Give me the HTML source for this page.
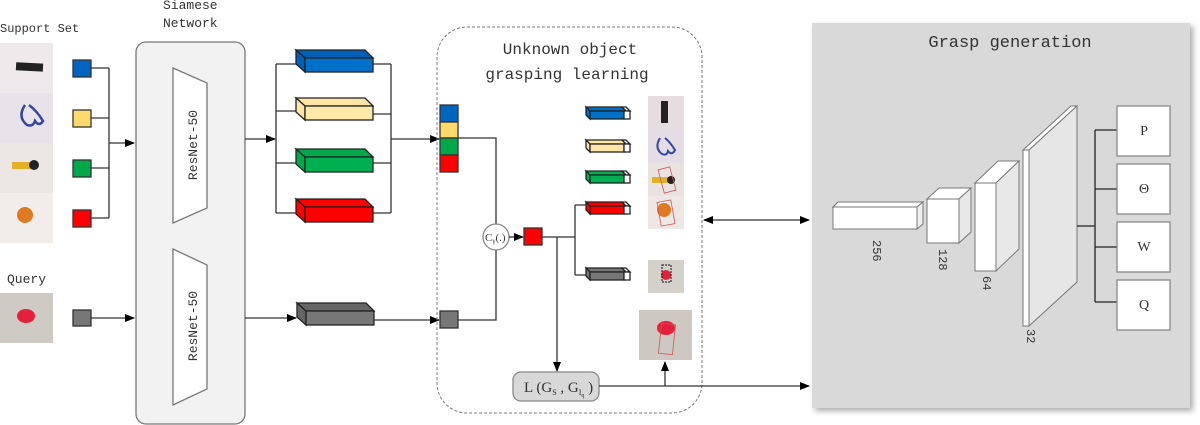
<!DOCTYPE html>
<html><head><meta charset="utf-8"><style>
html,body{margin:0;padding:0;background:#fff;width:1200px;height:425px;overflow:hidden}
text{font-family:"Liberation Mono","DejaVu Sans Mono",monospace;fill:#333}
text.s,.s text{font-family:"Liberation Serif",serif}
</style></head><body>
<svg width="1200" height="425" viewBox="0 0 1200 425" xmlns="http://www.w3.org/2000/svg">
<defs>
<marker id="a" markerWidth="10" markerHeight="8" refX="9" refY="4" orient="auto" markerUnits="userSpaceOnUse"><path d="M0,0 L10,4 L0,8 Z" fill="#000"/></marker>
<marker id="as" markerWidth="10" markerHeight="8" refX="1" refY="4" orient="auto" markerUnits="userSpaceOnUse"><path d="M10,0 L0,4 L10,8 Z" fill="#000"/></marker>
<filter id="sh" x="-5%" y="-5%" width="115%" height="115%"><feDropShadow dx="3" dy="3" stdDeviation="3" flood-color="#888" flood-opacity="0.7"/></filter>
</defs>
<g stroke="#333" stroke-width="1.3" fill="none">
<text x="0" y="32" font-size="12" stroke="none">Support Set</text>
<text x="7" y="283" font-size="13" stroke="none">Query</text>
<text x="163" y="9" font-size="13" stroke="none">Siamese</text>
<text x="163" y="27" font-size="13" stroke="none">Network</text>
<rect x="0" y="43" width="53" height="50" fill="#efe9ec" stroke="none"/>
<rect x="16" y="63" width="27" height="8" fill="#222" stroke="none" transform="rotate(3 30 67)"/>
<rect x="0" y="93" width="53" height="50" fill="#e8e2ea" stroke="none"/>
<path d="M25,105 q-8,12 2,20 q6,2 8,-4 q4,6 8,0 q-6,-10 -14,-16" stroke="#3346a0" stroke-width="2.5"/>
<rect x="0" y="143" width="53" height="50" fill="#ece7e5" stroke="none"/>
<rect x="12" y="162" width="20" height="7" fill="#e3b126" stroke="none"/>
<circle cx="34" cy="165" r="5" fill="#222" stroke="none"/>
<rect x="0" y="193" width="53" height="50" fill="#f2ecea" stroke="none"/>
<circle cx="25" cy="215" r="8" fill="#e07a20" stroke="none"/>
<rect x="0" y="293" width="53" height="50" fill="#cfcbc4" stroke="none"/>
<ellipse cx="26" cy="316" rx="9" ry="7" fill="#e4203a" stroke="none"/>
<rect x="73" y="60" width="18" height="17" fill="#0066c2"/>
<rect x="73" y="110" width="18" height="17" fill="#ffda6a"/>
<rect x="73" y="160" width="18" height="17" fill="#00a84a"/>
<rect x="73" y="210" width="18" height="17" fill="#f00"/>
<rect x="73" y="310" width="18" height="16" fill="#777"/>
<path d="M91,68 H109 M91,118 H109 M91,168 H109 M91,218 H109 M109,68 V218"/>
<path d="M109,143 H134" marker-end="url(#a)"/>
<path d="M91,318 H134" marker-end="url(#a)"/>
<rect x="136" y="42" width="109" height="382" rx="10" fill="#f2f2f2" stroke="#777"/>
<path d="M173,68 L207,83 L207,208 L173,223 Z" fill="#fff" stroke="#777"/>
<path d="M173,249 L207,265 L207,389 L173,405 Z" fill="#fff" stroke="#777"/>
<text x="0" y="0" font-size="13" stroke="none" transform="translate(197,145) rotate(-90)" text-anchor="middle">ResNet-50</text>
<text x="0" y="0" font-size="13" stroke="none" transform="translate(197,326) rotate(-90)" text-anchor="middle">ResNet-50</text>
<path d="M245,139 H275" marker-end="url(#a)"/>
<path d="M245,318 H296" marker-end="url(#a)"/>
<path d="M276,64 V213 M276,64 H296 M276,111 H296 M276,163 H296 M276,213 H296"/>
<path d="M373,64 H391 M373,114 H391 M373,163 H391 M373,213 H391 M391,64 V213"/>
<path d="M391,139 H439" marker-end="url(#a)"/>
<g stroke="#222">
<path d="M296,50 L365,50 L373,58 L305,58 Z" fill="#0060b8"/><path d="M296,50 L305,58 L305,72 L296,64 Z" fill="#0060b8"/><rect x="305" y="58" width="68" height="14" fill="#0070c8"/>
<path d="M296,98 L365,98 L373,106 L305,106 Z" fill="#ffe6a6"/><path d="M296,98 L305,106 L305,120 L296,112 Z" fill="#ffe6a6"/><rect x="305" y="106" width="68" height="14" fill="#ffe9a8"/>
<path d="M296,149 L365,149 L373,157 L305,157 Z" fill="#00a84a"/><path d="M296,149 L305,157 L305,172 L296,164 Z" fill="#00a84a"/><rect x="305" y="157" width="68" height="15" fill="#00b050"/>
<path d="M296,199 L365,199 L373,207 L305,207 Z" fill="#f00"/><path d="M296,199 L305,207 L305,222 L296,214 Z" fill="#f00"/><rect x="305" y="207" width="68" height="15" fill="#f00"/>
<path d="M297,303 L366,303 L374,311 L306,311 Z" fill="#666"/><path d="M297,303 L306,311 L306,325 L297,317 Z" fill="#666"/><rect x="306" y="311" width="68" height="14" fill="#777"/>
</g>
<path d="M374,320 H439" marker-end="url(#a)"/>
<rect x="437" y="27" width="265" height="386" rx="30" stroke="#777" stroke-dasharray="3,2" stroke-width="1"/>
<text x="570" y="54" font-size="16" stroke="none" text-anchor="middle">Unknown object</text>
<text x="567" y="79" font-size="16" stroke="none" text-anchor="middle">grasping learning</text>
<rect x="440" y="105" width="18" height="17" fill="#0066c2"/>
<rect x="440" y="122" width="18" height="16" fill="#ffda6a"/>
<rect x="440" y="138" width="18" height="17" fill="#00a84a"/>
<rect x="440" y="155" width="18" height="17" fill="#f00"/>
<rect x="440" y="311" width="18" height="17" fill="#777"/>
<path d="M458,138 H496 V224 M496,250 V320 H458"/>
<circle cx="496" cy="237" r="13" fill="#fff" stroke="#888"/>
<text class="s" x="485" y="241" font-size="11" stroke="none">C<tspan font-size="7" dy="2">γ</tspan><tspan dy="-2">(.)</tspan></text>
<path d="M509,237 H523" marker-end="url(#a)"/>
<rect x="524" y="228" width="18" height="17" fill="#f00"/>
<path d="M542,237 H575 M575,205 V275 M575,205 H586 M575,275 H586"/>
<path d="M557,237 V371" marker-end="url(#a)"/>
<rect x="513" y="372" width="86" height="29" rx="8" fill="#d8d8d8" stroke="#888"/>
<text class="s" x="524" y="392" font-size="15" stroke="none">L (G<tspan font-size="8" dy="3">S</tspan><tspan dy="-3"> , G</tspan><tspan font-size="8" dy="3">I</tspan><tspan font-size="6" dy="2">q</tspan><tspan dy="-5"> )</tspan></text>
<path d="M599,386 H809" marker-end="url(#a)"/>
<path d="M665,386 V362" marker-end="url(#a)"/>
<path d="M704,220 H809" marker-start="url(#as)" marker-end="url(#a)"/>
<g stroke="#222">
<path d="M586,107 L622,107 L626,111 L590,111 Z M586,107 L590,111 L590,119 L586,115 Z" fill="#0070c8"/><rect x="590" y="111" width="34" height="8" fill="#0070c8"/><path d="M622,107 L626,111 L630,111 L626,107 Z" fill="#fff"/><rect x="624" y="111" width="6" height="8" fill="#fff"/>
<path d="M586,140 L622,140 L626,144 L590,144 Z M586,140 L590,144 L590,152 L586,148 Z" fill="#ffe6a6"/><rect x="590" y="144" width="34" height="8" fill="#ffe6a6"/><path d="M622,140 L626,144 L630,144 L626,140 Z" fill="#fff"/><rect x="624" y="144" width="6" height="8" fill="#fff"/>
<path d="M586,171 L622,171 L626,175 L590,175 Z M586,171 L590,175 L590,183 L586,179 Z" fill="#00b050"/><rect x="590" y="175" width="34" height="8" fill="#00b050"/><path d="M622,171 L626,175 L630,175 L626,171 Z" fill="#fff"/><rect x="624" y="175" width="6" height="8" fill="#fff"/>
<path d="M586,202 L622,202 L626,206 L590,206 Z M586,202 L590,206 L590,214 L586,210 Z" fill="#f00"/><rect x="590" y="206" width="34" height="8" fill="#f00"/><path d="M622,202 L626,206 L630,206 L626,202 Z" fill="#fff"/><rect x="624" y="206" width="6" height="8" fill="#fff"/>
<path d="M586,268 L622,268 L626,272 L590,272 Z M586,268 L590,272 L590,280 L586,276 Z" fill="#777"/><rect x="590" y="272" width="34" height="8" fill="#777"/><path d="M622,268 L626,272 L630,272 L626,268 Z" fill="#fff"/><rect x="624" y="272" width="6" height="8" fill="#fff"/>
</g>
<rect x="648" y="96" width="36" height="34" fill="#e6dde0" stroke="none"/>
<rect x="661" y="101" width="7" height="22" fill="#222" stroke="none"/>
<rect x="648" y="130" width="36" height="33" fill="#e4dde6" stroke="none"/>
<path d="M660,138 q-6,10 2,16 q5,2 6,-3 q4,5 7,-1 q-5,-8 -10,-12" stroke="#3346a0" stroke-width="2"/>
<rect x="648" y="163" width="36" height="33" fill="#e8e2e0" stroke="none"/>
<rect x="652" y="177" width="18" height="6" fill="#e3b126" stroke="none"/><circle cx="671" cy="180" r="4" fill="#222" stroke="none"/>
<rect x="661" y="168" width="12" height="24" stroke="#c55" stroke-width="0.8" transform="rotate(-15 667 180)"/>
<rect x="648" y="196" width="36" height="33" fill="#efe7e6" stroke="none"/>
<circle cx="664" cy="210" r="7" fill="#e07a20" stroke="none"/>
<rect x="659" y="201" width="14" height="24" stroke="#c55" stroke-width="0.8" transform="rotate(-10 666 213)"/>
<rect x="648" y="260" width="36" height="33" fill="#d4d0ca" stroke="none"/>
<circle cx="666" cy="275" r="5" fill="#e4203a" stroke="none"/>
<rect x="662" y="265" width="9" height="17" stroke="#111" stroke-dasharray="2,1" stroke-width="1"/>
<rect x="639" y="310" width="53" height="50" fill="#cdc9c2" stroke="none"/>
<ellipse cx="666" cy="328" rx="9" ry="7" fill="#e4203a" stroke="none"/>
<rect x="660" y="324" width="14" height="30" stroke="#c55" stroke-width="0.8" transform="rotate(6 667 339)"/>
<rect x="812" y="23" width="378" height="385" fill="#d9d9d9" stroke="none" filter="url(#sh)"/>
<text x="1010" y="47" font-size="17" stroke="none" text-anchor="middle">Grasp generation</text>
<g stroke="#777" stroke-width="1">
<path d="M833,207 L838,202 L923,202 L917,207 Z" fill="#fff"/><path d="M917,207 L923,202 L923,224 L917,229 Z" fill="#eee"/><rect x="833" y="207" width="84" height="22" fill="#fff"/>
<path d="M927,199 L939,188 L971,188 L959,199 Z" fill="#fff"/><path d="M959,199 L971,188 L971,232 L959,243 Z" fill="#e8e8e8"/><rect x="927" y="199" width="32" height="44" fill="#fff"/>
<path d="M975,183 L998,161 L1019,161 L996,183 Z" fill="#fff"/><path d="M996,183 L1019,161 L1019,249 L996,271 Z" fill="#e8e8e8"/><rect x="975" y="183" width="21" height="88" fill="#fff"/>
<path d="M1023,150 L1071,106 L1077,106 L1029,150 Z" fill="#fff"/><path d="M1029,150 L1077,106 L1077,282 L1029,326 Z" fill="#e6e6e6"/><rect x="1023" y="150" width="6" height="176" fill="#fff"/>
</g>
<text x="0" y="0" font-size="12" stroke="none" transform="translate(873,240) rotate(90)">256</text>
<text x="0" y="0" font-size="12" stroke="none" transform="translate(939,249) rotate(90)">128</text>
<text x="0" y="0" font-size="12" stroke="none" transform="translate(983,276) rotate(90)">64</text>
<text x="0" y="0" font-size="12" stroke="none" transform="translate(1027,329) rotate(90)">32</text>
<path d="M1077,226 H1095 M1095,130 V302 M1095,130 H1117 M1095,189 H1117 M1095,247 H1117 M1095,302 H1117" stroke="#222"/>
<g stroke="#888" fill="#fff">
<rect x="1117" y="106" width="53" height="50"/><rect x="1117" y="164" width="53" height="50"/><rect x="1117" y="222" width="53" height="50"/><rect x="1117" y="280" width="53" height="50"/>
</g>
<g class="s" font-size="14" stroke="none" text-anchor="middle">
<text x="1144" y="135">P</text><text x="1144" y="193">Θ</text><text x="1144" y="251">W</text><text x="1144" y="309">Q</text>
</g>
</g>
</svg>
</body></html>
